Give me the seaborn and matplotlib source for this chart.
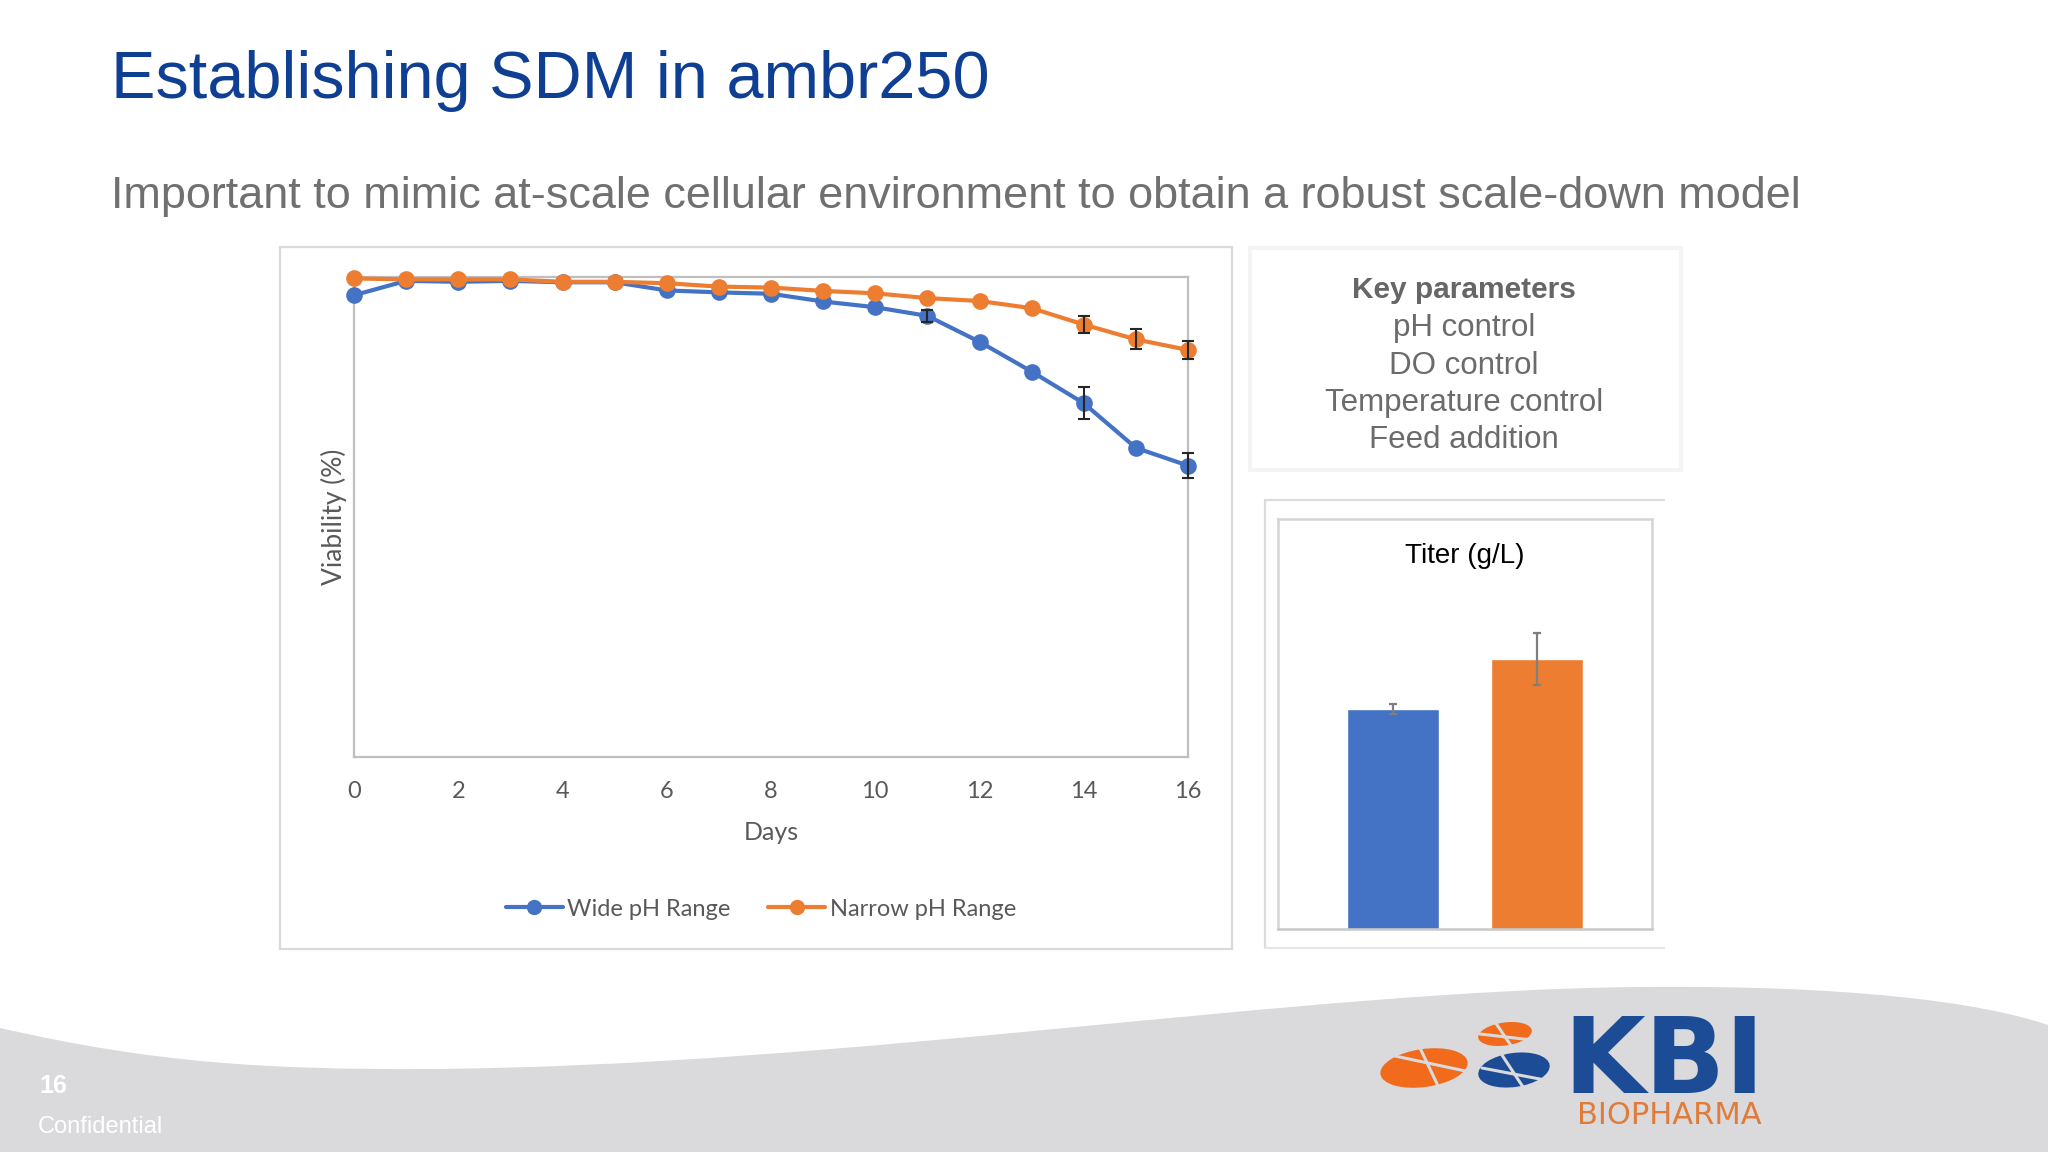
import numpy as np
import pandas as pd
import matplotlib
matplotlib.use("Agg")
import matplotlib.pyplot as plt
from matplotlib.patches import Rectangle, Ellipse, PathPatch
from matplotlib.path import Path
from matplotlib.lines import Line2D
import seaborn as sns

# ---------------- data ----------------
days = list(range(17))
wide_ph = [96.2, 99.2, 99.0, 99.2, 98.9, 98.9, 97.2, 96.8, 96.5, 94.9, 93.7, 91.9,
           86.5, 80.3, 73.7, 64.4, 60.7]
narrow_ph = [99.7, 99.5, 99.5, 99.5, 99.0, 99.0, 98.7, 98.0, 97.8, 97.1, 96.6, 95.6,
             95.0, 93.5, 90.1, 87.0, 84.8]
wide_err = [0, 0, 0, 0, 0, 0, 0, 0, 0, 0, 0, 1.2, 0, 0, 3.3, 0, 2.6]
narrow_err = [0, 0, 0, 0, 0, 0, 0, 0, 0, 0, 0, 0, 0, 0, 1.7, 2.1, 1.8]
series_names = ["Wide pH Range", "Narrow pH Range"]
titer = [2.2, 2.7]
titer_err = [0.05, 0.26]
x_ticks = [0, 2, 4, 6, 8, 10, 12, 14, 16]
key_params = ["pH control", "DO control", "Temperature control", "Feed addition"]

BLUE = "#4472C4"
ORANGE = "#ED7D31"
palette = {series_names[0]: BLUE, series_names[1]: ORANGE}

sns.set_theme(style="white")
plt.rcParams["font.family"] = ["Liberation Sans", "DejaVu Sans"]

W, H = 2048, 1152
fig = plt.figure(figsize=(W / 100, H / 100), dpi=100, facecolor="white")

# background axes in pixel coordinates
bg = fig.add_axes([0, 0, 1, 1], zorder=-10)
bg.set_xlim(0, W)
bg.set_ylim(H, 0)
bg.axis("off")

# footer wave
verts = [(0, 1028), (150, 1062), (260, 1070), (430, 1069),
         (850, 1066), (1300, 990), (1640, 987),
         (1850, 985), (1980, 1002), (2048, 1025),
         (2048, 1152), (0, 1152), (0, 1028)]
codes = [Path.MOVETO, Path.CURVE4, Path.CURVE4, Path.CURVE4,
         Path.CURVE4, Path.CURVE4, Path.CURVE4,
         Path.CURVE4, Path.CURVE4, Path.CURVE4,
         Path.LINETO, Path.LINETO, Path.CLOSEPOLY]
bg.add_patch(PathPatch(Path(verts, codes), facecolor="#dadadc", edgecolor="none"))

# title & subtitle
bg.text(111, 98, "Establishing SDM in ambr250", fontsize=48, color="#0e3f92",
        ha="left", va="baseline")
bg.text(111, 208, "Important to mimic at-scale cellular environment to obtain a robust scale-down model",
        fontsize=32.4, color="#707070", ha="left", va="baseline")

# panels
bg.add_patch(Rectangle((280, 247), 952, 702, facecolor="white", edgecolor="#d9d9d9", lw=1.6))
bg.add_patch(Rectangle((1250, 248), 431, 222, facecolor="white", edgecolor="#f4f4f6", lw=3))
bg.plot([1265, 1664], [500, 500], color="#dcdcdc", lw=1.6)
bg.plot([1265, 1265], [500, 948], color="#dcdcdc", lw=1.6)
bg.plot([1265, 1664], [948, 948], color="#e6e6e6", lw=1.6)

# key parameters text
bg.text(1464, 290, "Key parameters", fontsize=21.5, color="#666666", fontweight="bold",
        ha="center", va="center")
for i, t in enumerate(key_params):
    bg.text(1464, 328 + i * 37.5, t, fontsize=22.5, color="#6b6b6b", ha="center", va="center")

# footer texts
bg.text(39, 1086, "16", fontsize=18, color="white", fontweight="bold", ha="left", va="center")
bg.text(38, 1127, "Confidential", fontsize=17, color="white", ha="left", va="center")

# logo
bg.add_patch(Ellipse((1424, 1068), 88, 38, angle=-8, facecolor="#f26a1b", edgecolor="none"))
bg.add_patch(Ellipse((1505, 1034), 54, 23, angle=-8, facecolor="#f26a1b", edgecolor="none"))
bg.add_patch(Ellipse((1514, 1070), 72, 34, angle=-8, facecolor="#1d4c96", edgecolor="none"))
for (x0, y0, x1, y1) in [(1420, 1048, 1440, 1090), (1395, 1056, 1470, 1072),
                         (1495, 1022, 1512, 1047), (1480, 1034, 1532, 1040),
                         (1500, 1052, 1525, 1090), (1482, 1068, 1545, 1080)]:
    bg.plot([x0, x1], [y0, y1], color="#dadadc", lw=2.2)
bg.text(1664, 1093, "KBI", fontsize=76, fontweight="bold", color="#1d4c96",
        family="DejaVu Sans", ha="center", va="baseline")
bg.text(1669, 1124, "BIOPHARMA", fontsize=22, color="#e07b39",
        family="DejaVu Sans", ha="center", va="baseline")

# ---------------- line chart ----------------
L, R, T, B = 354, 1188, 277, 757
ax = fig.add_axes([L / W, (H - B) / H, (R - L) / W, (B - T) / H])
df = pd.DataFrame({
    "Day": days * 2,
    "Viability": wide_ph + narrow_ph,
    "Condition": [series_names[0]] * len(days) + [series_names[1]] * len(days),
})
sns.lineplot(data=df, x="Day", y="Viability", hue="Condition", palette=palette,
             marker="o", markersize=12, markeredgewidth=0, linewidth=3,
             ax=ax, legend=False, zorder=3)
for ln in ax.get_lines():
    ln.set_clip_on(False)

for vals, errs in [(wide_ph, wide_err), (narrow_ph, narrow_err)]:
    d = np.array(days)
    v = np.array(vals)
    e = np.array(errs)
    m = e > 0
    ax.errorbar(d[m], v[m], yerr=e[m], fmt="none", ecolor="#262626", elinewidth=1.5,
                capsize=4, capthick=1.5, zorder=5, clip_on=False)

ax.set_xlim(0, 16)
ax.set_ylim(0, 100)
ax.set_xticks(x_ticks)
ax.set_xticklabels([str(t) for t in x_ticks])
ax.set_yticks([])
ax.tick_params(axis="x", length=0, pad=17, labelsize=17, labelcolor="#595959")
for lab in ax.get_xticklabels():
    lab.set_family(["Lato", "DejaVu Sans"])
for s in ax.spines.values():
    s.set_color("#bfbfbf")
    s.set_linewidth(1.6)
ax.set_xlabel("Days", fontsize=18, color="#595959", family=["Lato", "DejaVu Sans"], va="center")
ax.xaxis.set_label_coords(0.5, (B - 833) / (B - T))
ax.set_ylabel("Viability (%)", fontsize=19, color="#595959", family=["Lato", "DejaVu Sans"],
              va="center")
ax.yaxis.set_label_coords((334 - L) / (R - L), 0.5)
ax.set_facecolor("white")

handles = [Line2D([], [], color=palette[n], marker="o", markersize=11, markeredgewidth=0,
                  linewidth=3) for n in series_names]
leg = fig.legend(handles, series_names, loc="center", bbox_to_anchor=(761 / W, (H - 909) / H),
                 ncol=2, frameon=False, handlelength=2.4, handletextpad=0.2,
                 columnspacing=1.6, prop={"family": ["Lato", "DejaVu Sans"], "size": 17})
for t in leg.get_texts():
    t.set_color("#595959")

# ---------------- bar chart ----------------
bL, bR, bT, bB = 1278, 1652, 519, 929
bx = fig.add_axes([bL / W, (H - bB) / H, (bR - bL) / W, (bB - bT) / H])
bdf = pd.DataFrame({"Condition": series_names, "Titer": titer})
sns.barplot(data=bdf, x="Condition", y="Titer", hue="Condition", palette=palette,
            width=0.64, errorbar=None, legend=False, ax=bx, saturation=1)
bx.errorbar([0, 1], titer, yerr=titer_err, fmt="none", ecolor="#7f7f7f",
            elinewidth=1.6, capsize=3, capthick=1.6, zorder=5)
bx.set_xlim(-0.8, 1.8)
bx.set_ylim(0, 4.1)
bx.set_xticks([])
bx.set_yticks([])
bx.set_xlabel("")
bx.set_ylabel("")
for k, s in bx.spines.items():
    s.set_visible(True)
    s.set_color("#d4d4d4")
    s.set_linewidth(1.8)
bx.spines["bottom"].set_color("#c8c8c8")
bx.text(0.5, (bB - 556) / (bB - bT), "Titer (g/L)", transform=bx.transAxes, fontsize=20,
        color="black", ha="center", va="center")

fig.savefig("out.png", dpi=100, facecolor="white")
